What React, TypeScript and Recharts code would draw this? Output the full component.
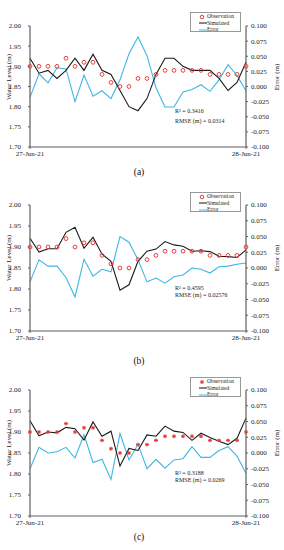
import { ComposedChart, Line, XAxis, YAxis, Legend } from 'recharts'

const hours = [0, 1, 2, 3, 4, 5, 6, 7, 8, 9, 10, 11, 12, 13, 14, 15, 16, 17, 18, 19, 20, 21, 22, 23, 24]
const dateLabels = ['27-Jun-21', '28-Jun-21']
const levelTicks = [1.7, 1.75, 1.8, 1.85, 1.9, 1.95, 2.0]
const errorTicks = [-0.1, -0.075, -0.05, -0.025, 0, 0.025, 0.05, 0.075, 0.1]

const observed = [1.90, 1.90, 1.90, 1.90, 1.92, 1.90, 1.91, 1.91, 1.88, 1.86, 1.85, 1.85, 1.87, 1.87, 1.88, 1.89, 1.89, 1.89, 1.89, 1.89, 1.88, 1.88, 1.88, 1.88, 1.90]

const simA = [1.92, 1.883, 1.89, 1.87, 1.89, 1.92, 1.89, 1.93, 1.89, 1.88, 1.84, 1.80, 1.79, 1.82, 1.88, 1.92, 1.92, 1.90, 1.89, 1.89, 1.89, 1.87, 1.84, 1.86, 1.91]
const errA = [-0.018, 0.021, 0.006, 0.031, 0.029, -0.025, 0.019, -0.016, -0.007, -0.02, 0.011, 0.054, 0.082, 0.051, -0.002, -0.034, -0.034, -0.009, -0.005, 0.003, -0.008, 0.011, 0.036, 0.018, -0.007]

const simB = [1.921, 1.888, 1.896, 1.896, 1.935, 1.947, 1.897, 1.923, 1.883, 1.866, 1.797, 1.81, 1.866, 1.89, 1.895, 1.913, 1.905, 1.902, 1.89, 1.891, 1.889, 1.878, 1.877, 1.875, 1.893]
const errB = [-0.022, 0.013, 0.003, 0.003, -0.015, -0.046, 0.014, -0.013, -0.002, -0.006, 0.05, 0.041, 0.013, -0.022, -0.016, -0.024, -0.014, -0.011, 0.0, -0.002, -0.008, 0.002, 0.003, 0.006, 0.008]

const simC = [1.927, 1.891, 1.90, 1.898, 1.911, 1.908, 1.881, 1.924, 1.89, 1.902, 1.819, 1.861, 1.856, 1.893, 1.89, 1.914, 1.902, 1.899, 1.88, 1.897, 1.887, 1.878, 1.87, 1.885, 1.933]
const errC = [-0.025, 0.009, 0.0, 0.002, 0.009, -0.008, 0.029, -0.015, -0.01, -0.042, 0.031, -0.011, 0.014, -0.025, -0.01, -0.024, -0.011, -0.009, 0.01, -0.007, -0.007, 0.004, 0.01, -0.005, -0.032]

const FONT = "'Liberation Serif', 'Times New Roman', serif"
const RED = '#e5403a'
const BLUE = '#3db7e4'
const AXIS = '#5e5e5e'
const TXT = '#222'

function Star({ cx, cy }: { cx: number; cy: number }) {
  const s = 2
  return (
    <g stroke={RED} strokeWidth={1.1}>
      <line x1={cx - s} y1={cy} x2={cx + s} y2={cy} />
      <line x1={cx - s * 0.6} y1={cy - s * 0.8} x2={cx + s * 0.6} y2={cy + s * 0.8} />
      <line x1={cx - s * 0.6} y1={cy + s * 0.8} x2={cx + s * 0.6} y2={cy - s * 0.8} />
    </g>
  )
}

function LegendBox({ star }: { star: boolean }) {
  const row = { display: 'flex', alignItems: 'center', height: 6.5 }
  return (
    <div style={{ border: '1px solid #999', background: '#fff', width: 51, height: 20, padding: '0.5px 0 0 0', boxSizing: 'border-box', fontFamily: FONT, fontSize: 5.5, color: TXT, lineHeight: 1 }}>
      <div style={row}>
        <svg width={16} height={6}>
          {star ? <Star cx={11} cy={3} /> : <circle cx={11} cy={3} r={1.8} stroke={RED} fill="none" strokeWidth={1} />}
        </svg>
        <span>Observation</span>
      </div>
      <div style={row}>
        <svg width={16} height={6}><line x1={8} y1={3} x2={16} y2={3} stroke="#111" strokeWidth={1} /></svg>
        <span>Simulated</span>
      </div>
      <div style={row}>
        <svg width={16} height={6}><line x1={8} y1={3} x2={16} y2={3} stroke={BLUE} strokeWidth={1} /></svg>
        <span>Error</span>
      </div>
    </div>
  )
}

interface PanelProps {
  top: number
  height: number
  marginTop: number
  sim: number[]
  err: number[]
  r2: string
  rmse: string
  statsTop: number
  statsGap: number
  caption: string
  captionTop: number
  star?: boolean
}

function Panel({ top, height, marginTop, sim, err, r2, rmse, statsTop, statsGap, caption, captionTop, star = false }: PanelProps) {
  const data = hours.map((h, i) => ({ h, obs: observed[i], sim: sim[i], err: err[i] }))
  const plotMid = marginTop + (height - marginTop - 14) / 2
  return (
    <div style={{ position: 'absolute', left: 0, top, width: 284, height: captionTop + 12 }}>
      <ComposedChart width={284} height={height} data={data} margin={{ top: marginTop, right: 0, bottom: 0, left: 0 }}>
        <XAxis
          dataKey="h" type="number" domain={[0, 24]} ticks={[0, 24]}
          tickFormatter={(v: number) => (v === 0 ? dateLabels[0] : dateLabels[1])}
          height={14} tickSize={2} tickMargin={2}
          axisLine={{ stroke: AXIS, strokeWidth: 1.2 }} tickLine={{ stroke: AXIS }}
          tick={{ fontSize: 7, fill: TXT, fontFamily: FONT }}
        />
        <XAxis xAxisId="top" dataKey="h" type="number" domain={[0, 24]} orientation="top" height={0}
          tick={false} tickLine={false} axisLine={{ stroke: AXIS, strokeWidth: 1.2 }} />
        <YAxis
          yAxisId="lvl" domain={[1.7, 2.0]} ticks={levelTicks} width={30}
          tickFormatter={(v: number) => v.toFixed(2)} tickSize={2} tickMargin={7}
          axisLine={{ stroke: AXIS, strokeWidth: 1.2 }} tickLine={{ stroke: AXIS }}
          tick={{ fontSize: 7, fill: TXT, fontFamily: FONT }} interval={0}
        />
        <YAxis
          yAxisId="err" orientation="right" domain={[-0.1, 0.1]} ticks={errorTicks} width={38}
          tickFormatter={(v: number) => v.toFixed(3)} tickSize={2} tickMargin={3}
          axisLine={{ stroke: AXIS, strokeWidth: 1.2 }} tickLine={{ stroke: AXIS }}
          tick={{ fontSize: 7, fill: TXT, fontFamily: FONT }} interval={0}
        />
        <Legend
          verticalAlign="top" align="right"
          wrapperStyle={{ position: 'absolute', left: 190, top: 12, width: 51, height: 20 }}
          content={() => <LegendBox star={star} />}
        />
        <Line yAxisId="err" dataKey="err" stroke={BLUE} strokeWidth={1.1} dot={false} isAnimationActive={false} />
        <Line yAxisId="lvl" dataKey="sim" stroke="#1a1a1a" strokeWidth={1.1} dot={false} isAnimationActive={false} />
        <Line
          yAxisId="lvl" dataKey="obs" stroke="none" isAnimationActive={false} activeDot={false}
          dot={star
            ? (p: any) => <Star key={`s${p.index}`} cx={p.cx} cy={p.cy} />
            : { r: 1.9, stroke: RED, strokeWidth: 1, fill: 'none' }}
        />
      </ComposedChart>
      <div style={{ position: 'absolute', left: 8.5, top: plotMid, transform: 'translate(-50%, -50%) rotate(-90deg)', whiteSpace: 'nowrap', fontFamily: FONT, fontSize: 7, color: TXT }}>
        Water Level (m)
      </div>
      <div style={{ position: 'absolute', left: 277, top: plotMid, transform: 'translate(-50%, -50%) rotate(-90deg)', whiteSpace: 'nowrap', fontFamily: FONT, fontSize: 7, color: TXT }}>
        Error (m)
      </div>
      <div style={{ position: 'absolute', left: 175, top: statsTop, fontFamily: FONT, fontSize: 6, color: TXT, whiteSpace: 'nowrap', lineHeight: `${statsGap}px` }}>
        <div>{r2}</div>
        <div>{rmse}</div>
      </div>
      <div style={{ position: 'absolute', left: 0, width: 278, top: captionTop - 6, textAlign: 'center', fontFamily: FONT, fontSize: 9.5, color: '#111' }}>
        {caption}
      </div>
    </div>
  )
}

export default function App() {
  return (
    <div style={{ position: 'absolute', left: 0, top: 0, width: 284, height: 550, background: '#fff' }}>
      <Panel top={0} height={161} marginTop={6} sim={simA} err={errA}
        r2="R² =  0.3416" rmse="RMSE (m) = 0.0314" statsTop={107} statsGap={9.5}
        caption="(a)" captionTop={173} />
      <Panel top={180} height={165} marginTop={5} sim={simB} err={errB}
        r2="R² = 0.4595" rmse="RMSE (m) = 0.02576" statsTop={104.5} statsGap={7.5}
        caption="(b)" captionTop={182} />
      <Panel top={365} height={165} marginTop={5} sim={simC} err={errC} star
        r2="R² =  0.3188" rmse="RMSE (m) = 0.0269" statsTop={104.5} statsGap={7.5}
        caption="(c)" captionTop={173} />
    </div>
  )
}
